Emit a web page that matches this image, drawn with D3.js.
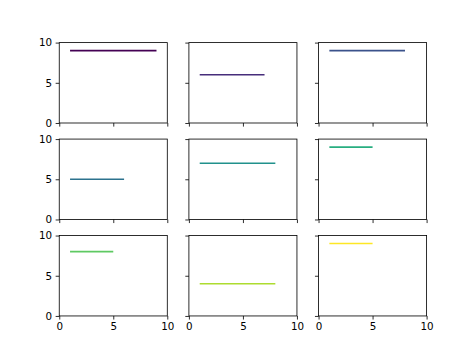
<!DOCTYPE html>
<html lang="en">
<head>
<meta charset="UTF-8">
<title>hlines grid</title>
<script src="https://d3js.org/d3.v7.min.js"></script>
<style>
  body { margin: 0; background: #fff; }
  svg { display: block; }
  .tick text { font-family: 'DejaVu Sans', sans-serif; font-size: 10.3px; fill: #000; }
  .tick line { stroke: #000; stroke-width: 0.82; }
  .domain { display: none; }
  .spine { fill: none; stroke: #000; stroke-width: 0.82; }
</style>
</head>
<body>
<svg id="chart" width="474" height="355"></svg>
<script>
// one horizontal segment per panel, row by row
const yVals = [9, 6, 9, 5, 7, 9, 8, 4, 9];
const xStart = [1, 1, 1, 1, 1, 1, 1, 1, 1];
const xEnd = [9, 7, 8, 6, 8, 5, 5, 8, 5];
const tickVals = [0, 5, 10];

const W = 474, H = 355;
const nRows = 3, nCols = 3;
const padL = 0.125 * W, padR = 0.9 * W;
const padT = (1 - 0.88) * H, padB = (1 - 0.11) * H;
const cellW = (padR - padL) / (nCols + 0.2 * (nCols - 1));
const cellH = (padB - padT) / (nRows + 0.2 * (nRows - 1));

const svg = d3.select("#chart");
const x = d3.scaleLinear().domain([0, 10]).range([0, cellW]);
const y = d3.scaleLinear().domain([0, 10]).range([cellH, 0]);

yVals.forEach((v, i) => {
    const r = Math.floor(i / nCols), c = i % nCols;
    const g = svg.append("g")
        .attr("transform", `translate(${padL + c * cellW * 1.2}, ${padT + r * cellH * 1.2})`);

    const xAxis = d3.axisBottom(x).tickValues(tickVals).tickSize(3.6).tickPadding(3.6);
    if (r < nRows - 1) xAxis.tickFormat("");
    g.append("g").attr("transform", `translate(0,${cellH})`).call(xAxis);

    const yAxis = d3.axisLeft(y).tickValues(tickVals).tickSize(3.6).tickPadding(3.6);
    if (c > 0) yAxis.tickFormat("");
    g.append("g").call(yAxis);

    g.append("line")
        .attr("x1", x(xStart[i])).attr("x2", x(xEnd[i]))
        .attr("y1", y(v)).attr("y2", y(v))
        .attr("stroke", d3.interpolateViridis(i / (yVals.length - 1)))
        .attr("stroke-width", 1.54);

    g.append("rect").attr("class", "spine")
        .attr("width", cellW).attr("height", cellH);
});
</script>
</body>
</html>
